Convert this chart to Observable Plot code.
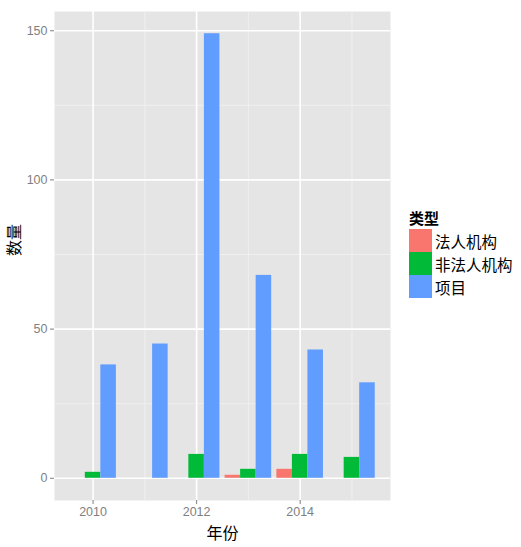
<!DOCTYPE html>
<html><head><meta charset="utf-8">
<script src="https://cdn.jsdelivr.net/npm/d3@7"></script>
<script src="https://cdn.jsdelivr.net/npm/@observablehq/plot@0.6"></script>
<style>
body{margin:0;background:#fff;}
#wrap{position:relative;width:521px;height:547px;}
#legend{position:absolute;left:409px;top:207px;font-family:"Noto Sans CJK SC",sans-serif;}
#legend .t{font-weight:bold;font-size:15px;height:22px;line-height:22px;margin-bottom:0px;}
#legend .row{display:flex;align-items:center;height:23px;}
#legend .sw{width:23px;height:23px;margin-right:3px;}
#legend .lab{font-size:15.5px;}
</style></head>
<body><div id="wrap"><div id="legend"></div></div>
<script>
const years = [2010, 2011, 2012, 2013, 2014, 2015];
const types = ["法人机构", "非法人机构", "项目"];
const legalEntity = [0, 0, 0, 1, 3, 0];
const nonLegalEntity = [2, 0, 8, 3, 8, 7];
const projects = [38, 45, 149, 68, 43, 32];
const colors = ["#F8766D", "#00BA38", "#619CFF"];
const xTicks = [2010, 2012, 2014];
const xMinor = [2011, 2013, 2015];
const yTicks = [0, 50, 100, 150];
const yMinor = [25, 75, 125];

const series = [legalEntity, nonLegalEntity, projects];
const rows = [];
years.forEach((yr, i) => {
  types.forEach((t, j) => {
    const v = series[j][i];
    if (v > 0) rows.push({year: yr, type: t, value: v, x1: yr + (j - 1) * 0.3 - 0.15, x2: yr + (j - 1) * 0.3 + 0.15});
  });
});

const xDom = [2009.55 - 0.295, 2015.45 + 0.295];
const yDom = [-7.45, 156.45];

const plot = Plot.plot({
  width: 521,
  height: 547,
  marginLeft: 54,
  marginRight: 131,
  marginTop: 11,
  marginBottom: 47,
  style: {fontFamily: "Liberation Sans, Arial, sans-serif", background: "#fff"},
  x: {domain: xDom, ticks: xTicks, tickFormat: d => String(d), label: null, tickSize: 4},
  y: {domain: yDom, ticks: yTicks, label: null, tickSize: 4},
  color: {domain: types, range: colors},
  marks: [
    Plot.frame({fill: "#E5E5E5", stroke: null}),
    Plot.ruleY(yMinor, {stroke: "#F2F2F2", strokeWidth: 0.8}),
    Plot.ruleX(xMinor, {stroke: "#F2F2F2", strokeWidth: 0.8}),
    Plot.ruleY(yTicks, {stroke: "#fff", strokeWidth: 1.6}),
    Plot.ruleX(xTicks, {stroke: "#fff", strokeWidth: 1.6}),
    Plot.rectY(rows, {x1: "x1", x2: "x2", y1: 0, y2: "value", fill: "type", inset: 0}),
    Plot.axisX({ticks: xTicks, tickFormat: d => String(d), tickSize: 4, stroke: "#7F7F7F", color: "#7F7F7F", fontSize: 12.5, tickPadding: 3, label: null}),
    Plot.axisY({ticks: yTicks, tickSize: 4, stroke: "#7F7F7F", color: "#7F7F7F", fontSize: 12.5, tickPadding: 3, label: null}),
    Plot.text(["年份"], {frameAnchor: "bottom", dy: 38, fontSize: 16, fill: "#000", fontFamily: "Noto Sans CJK SC"}),
    Plot.text(["数量"], {frameAnchor: "left", dx: -40, rotate: -90, fontSize: 16, fill: "#000", fontFamily: "Noto Sans CJK SC"})
  ]
});
document.getElementById("wrap").prepend(plot);

const lg = document.getElementById("legend");
const title = document.createElement("div");
title.className = "t"; title.textContent = "类型";
lg.appendChild(title);
types.forEach((t, j) => {
  const r = document.createElement("div"); r.className = "row";
  const s = document.createElement("div"); s.className = "sw"; s.style.background = colors[j];
  const l = document.createElement("span"); l.className = "lab"; l.textContent = t;
  r.appendChild(s); r.appendChild(l); lg.appendChild(r);
});
</script></body></html>
